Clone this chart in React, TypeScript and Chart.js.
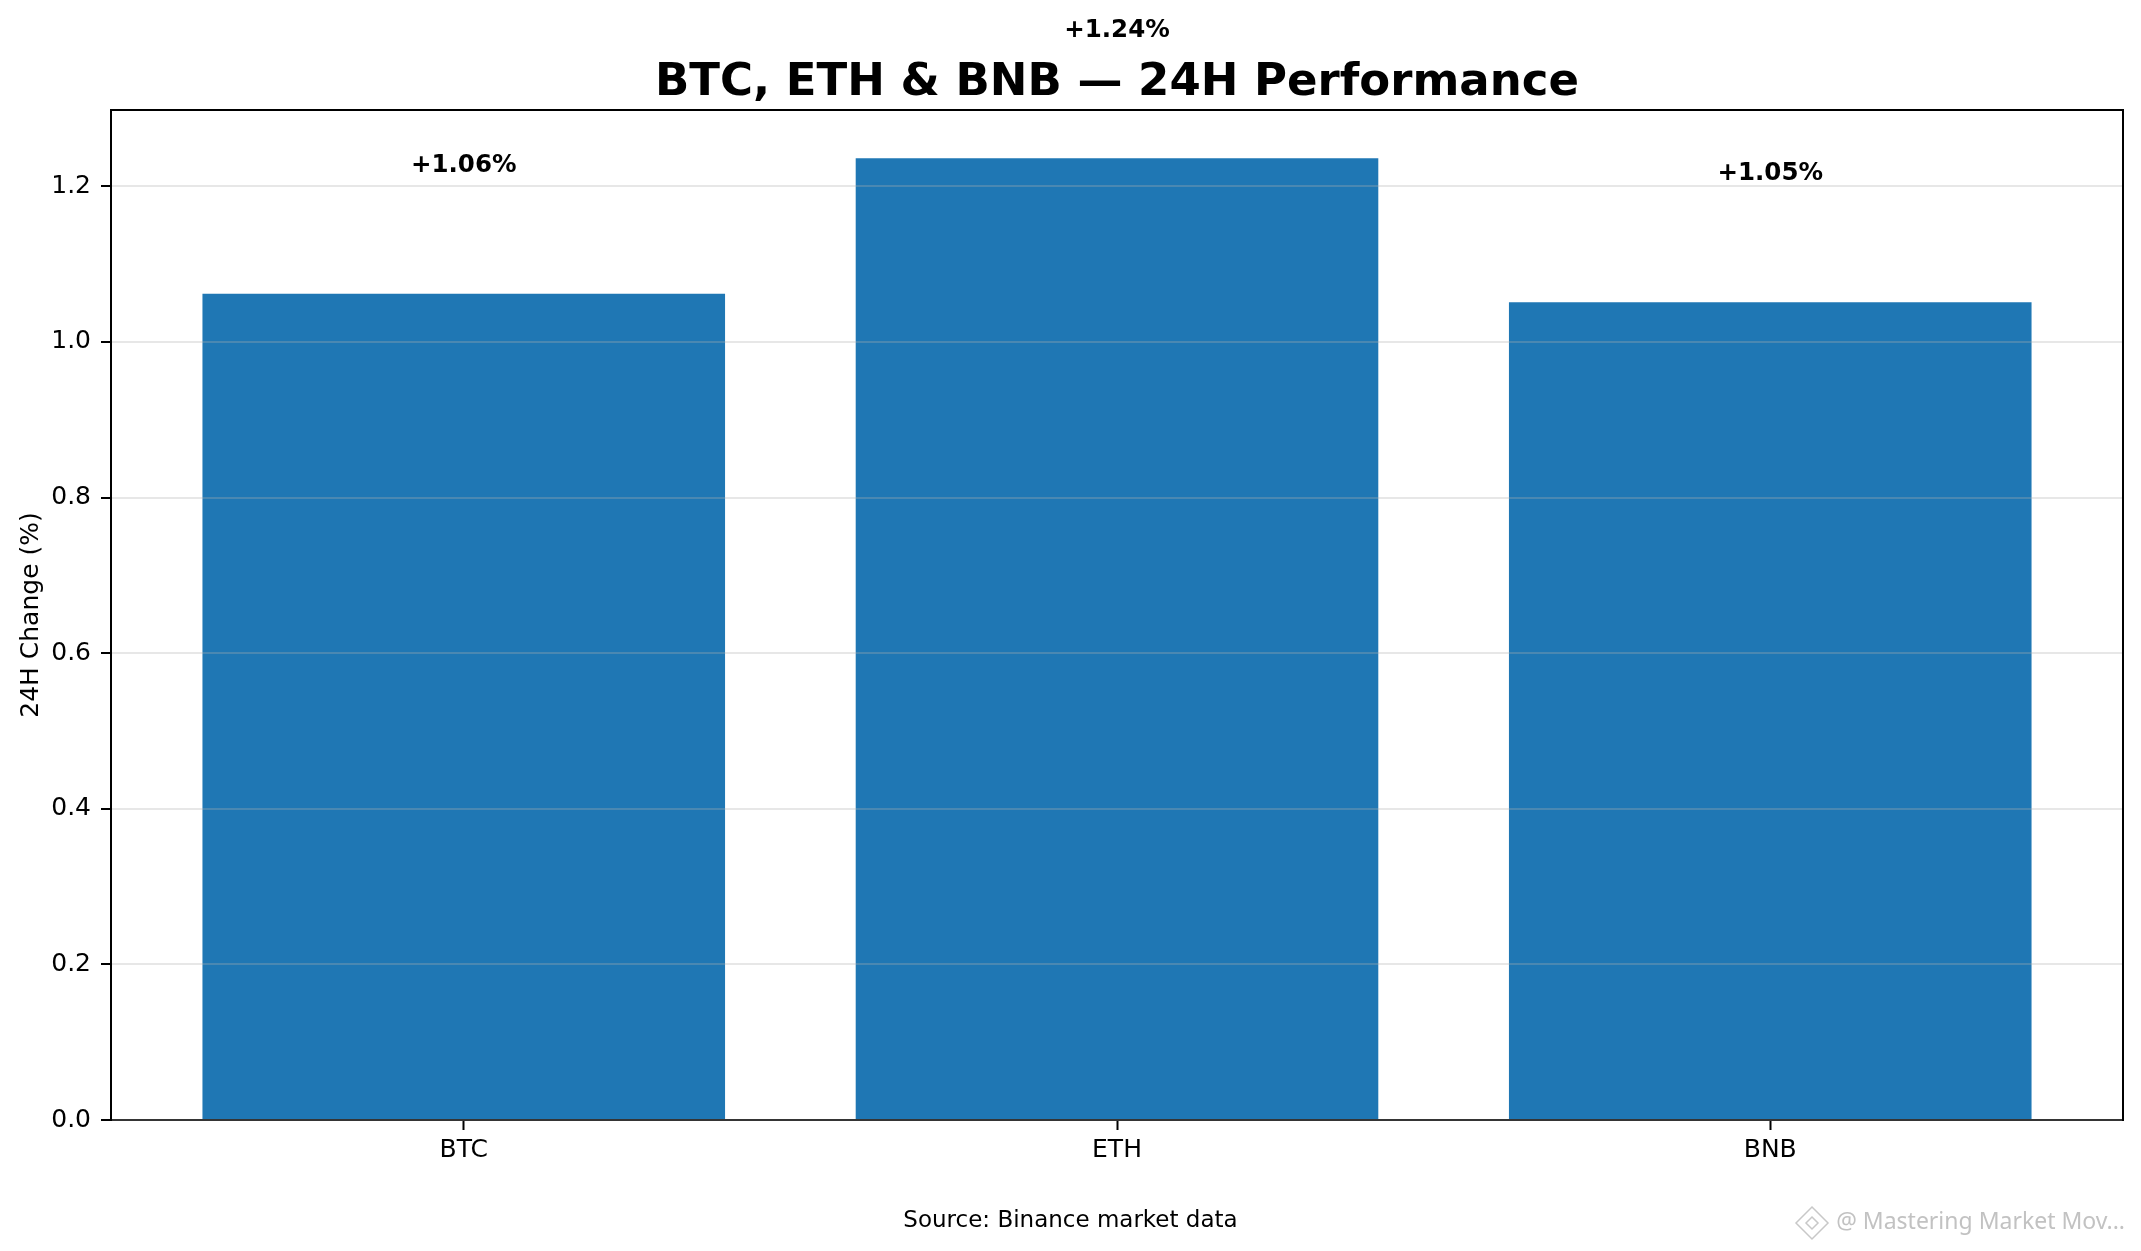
import React, { useEffect, useRef } from "react";
import { Chart, registerables } from "chart.js";

Chart.register(...registerables);

const categories = ["BTC", "ETH", "BNB"];
const changePct = [1.062, 1.236, 1.051];
const barLabels = ["+1.06%", "+1.24%", "+1.05%"];
const yTickValues = [0, 0.2, 0.4, 0.6, 0.8, 1.0, 1.2];
const yMax = 1.298;
const labelOffset = 0.15;
const titleText = "BTC, ETH & BNB \u2014 24H Performance";
const yAxisTitle = "24H Change (%)";
const sourceText = "Source: Binance market data";
const watermarkText = "@ Mastering Market Mov...";

const FONT = "'DejaVu Sans', sans-serif";
const W = 2141;
const H = 1251;

export default function App() {
  const ref = useRef<HTMLCanvasElement>(null);

  useEffect(() => {
    const canvas = ref.current;
    if (!canvas) return;

    const overlay = {
      id: "overlay",
      afterDraw(chart: any) {
        const { ctx, chartArea: a, scales } = chart;
        const xs = scales.x;
        const ys = scales.y;
        ctx.save();
        // top & right spines
        ctx.strokeStyle = "#000";
        ctx.lineWidth = 2;
        ctx.beginPath();
        ctx.moveTo(a.left - 1, a.top);
        ctx.lineTo(a.right, a.top);
        ctx.lineTo(a.right, a.bottom + 1);
        ctx.stroke();

        // bar value labels
        ctx.fillStyle = "#000";
        ctx.font = `bold 24.5px ${FONT}`;
        ctx.textAlign = "center";
        ctx.textBaseline = "alphabetic";
        changePct.forEach((v, i) => {
          ctx.fillText(
            barLabels[i],
            xs.getPixelForValue(i),
            ys.getPixelForValue(v + labelOffset) - 5
          );
        });

        // title
        ctx.font = `bold 45px ${FONT}`;
        ctx.fillText(titleText, (a.left + a.right) / 2, 95);

        // y-axis title
        ctx.save();
        ctx.translate(38, (a.top + a.bottom) / 2);
        ctx.rotate(-Math.PI / 2);
        ctx.font = `25px ${FONT}`;
        ctx.textAlign = "center";
        ctx.textBaseline = "alphabetic";
        ctx.fillText(yAxisTitle, 0, 0);
        ctx.restore();

        // source note
        ctx.font = `23px ${FONT}`;
        ctx.textAlign = "center";
        ctx.fillText(sourceText, 1070.5, 1227);

        // watermark
        ctx.fillStyle = "#c2c2c2";
        ctx.strokeStyle = "#c8c8c8";
        ctx.font = `23px 'Noto Sans', sans-serif`;
        ctx.textAlign = "right";
        ctx.fillText(watermarkText, 2125, 1229);
        const cx = 1812;
        const cy = 1223;
        ctx.lineWidth = 1.5;
        ctx.beginPath();
        ctx.moveTo(cx, cy - 16);
        ctx.lineTo(cx + 16, cy);
        ctx.lineTo(cx, cy + 16);
        ctx.lineTo(cx - 16, cy);
        ctx.closePath();
        ctx.stroke();
        ctx.beginPath();
        ctx.moveTo(cx, cy - 6);
        ctx.lineTo(cx + 6, cy);
        ctx.lineTo(cx, cy + 6);
        ctx.lineTo(cx - 6, cy);
        ctx.closePath();
        ctx.stroke();
        ctx.restore();
      },
    };

    const chart = new Chart(canvas, {
      type: "bar",
      data: {
        datasets: [
          {
            data: changePct.map((v, i) => ({ x: i, y: v })),
            backgroundColor: "#1f77b4",
            borderWidth: 0,
            barPercentage: 1,
            categoryPercentage: 0.8,
          },
        ],
      },
      options: {
        responsive: false,
        animation: false,
        devicePixelRatio: 1,
        layout: { padding: { top: 110, right: 18, left: 0, bottom: 0 } },
        plugins: {
          legend: { display: false },
          tooltip: { enabled: false },
          title: { display: false },
        },
        scales: {
          x: {
            type: "linear",
            min: -0.54,
            max: 2.54,
            offset: false,
            afterBuildTicks: (s: any) => {
              s.ticks = categories.map((_, i) => ({ value: i }));
            },
            afterFit: (s: any) => {
              s.height = H - 1120;
            },
            grid: {
              display: true,
              drawOnChartArea: false,
              drawTicks: true,
              tickLength: 10,
              tickColor: "#000",
              tickWidth: 2,
              offset: false,
              z: 1,
            },
            border: { display: true, color: "#000", width: 2, z: 1 },
            ticks: {
              font: { family: FONT, size: 25 },
              color: "#000",
              padding: 5,
              maxRotation: 0,
              autoSkip: false,
              callback: (v: any) => categories[v as number] ?? "",
            },
          },
          y: {
            type: "linear",
            min: 0,
            max: yMax,
            afterBuildTicks: (s: any) => {
              s.ticks = yTickValues.map((v) => ({ value: v }));
            },
            afterFit: (s: any) => {
              s.width = 111;
            },
            grid: {
              color: "rgba(176,176,176,0.3)",
              lineWidth: 2,
              drawTicks: true,
              tickLength: 10,
              tickColor: "#000",
              tickWidth: 2,
              z: 1,
            },
            border: { display: true, color: "#000", width: 2, z: 1 },
            ticks: {
              font: { family: FONT, size: 25 },
              color: "#000",
              padding: 10,
              callback: (v: any) => Number(v).toFixed(1),
            },
          },
        },
      },
      plugins: [overlay],
    } as any);

    return () => chart.destroy();
  }, []);

  return (
    <div
      style={{
        position: "fixed",
        left: 0,
        top: 0,
        width: W,
        height: H,
        background: "#fff",
      }}
    >
      <canvas ref={ref} width={W} height={H} style={{ width: W, height: H, display: "block" }} />
    </div>
  );
}
